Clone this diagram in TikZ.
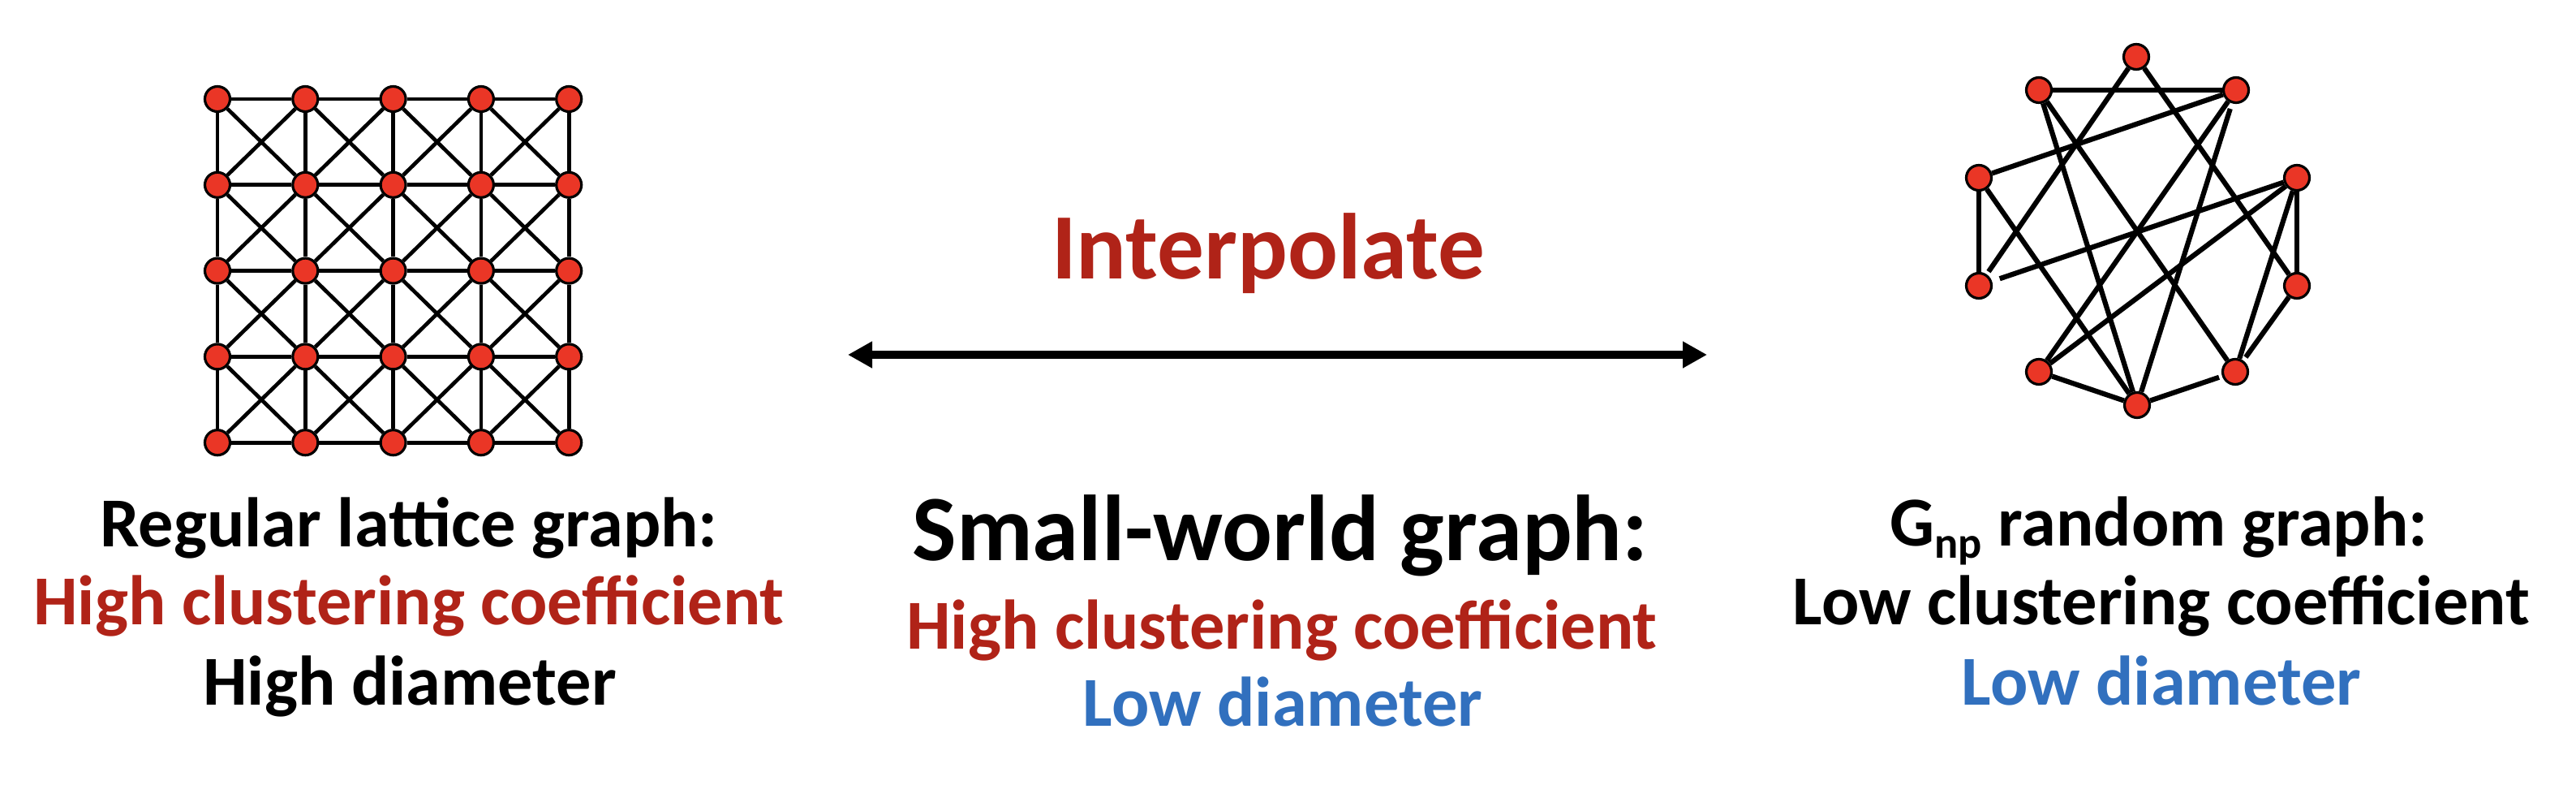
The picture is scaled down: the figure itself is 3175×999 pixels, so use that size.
\documentclass[tikz,border=0pt]{standalone}
\usepackage{fontspec}
\setmainfont{Carlito}
\usepackage{tikz}
\usetikzlibrary{arrows.meta}
\definecolor{redtxt}{RGB}{176,35,24}
\definecolor{bluetxt}{RGB}{49,112,190}
\definecolor{vtxfill}{RGB}{234,54,38}
\tikzset{
  vtx/.style={circle,draw=black,fill=vtxfill,line width=0.32mm,minimum size=3.1mm,inner sep=0pt},
  lat/.style={line width=0.47mm},
  rnd/.style={line width=0.62mm},
  bigtxt/.style={anchor=base,font=\bfseries\fontsize{32.8}{38}\selectfont},
  smalltxt/.style={anchor=base,font=\bfseries\fontsize{24.6}{29}\selectfont}
}

\begin{document}
\begin{tikzpicture}[line cap=butt,line join=round,x=0.1mm,y=-0.1mm]
\useasboundingbox (0,0) rectangle (3175,999);
% regular lattice
\foreach \i in {0,...,4}
  \foreach \j in {0,...,4}
    \node [vtx] (l\i\j) at ({268+108.3*\i},{122+105.8*\j}) {};
\foreach \i/\n in {0/1,1/2,2/3,3/4} {
  \foreach \j in {0,...,4} {
    \draw [lat] (l\i\j)--(l\n\j);
    \draw [lat] (l\j\i)--(l\j\n);
  }
  \foreach \j/\m in {0/1,1/2,2/3,3/4} {
    \draw [lat] (l\i\j)--(l\n\m);
    \draw [lat] (l\n\j)--(l\i\m);
  }
}
% random graph
\node [vtx] (gA) at (2633,70) {};
\node [vtx] (gB) at (2513,111) {};
\node [vtx] (gC) at (2756,111) {};
\node [vtx] (gD) at (2439,219) {};
\node [vtx] (gE) at (2831,219) {};
\node [vtx] (gF) at (2439,352) {};
\node [vtx] (gG) at (2831,352) {};
\node [vtx] (gH) at (2513,458) {};
\node [vtx] (gI) at (2755,458) {};
\node [vtx] (gJ) at (2634,499) {};
\foreach \a/\b in {gB/gC,gA/gG,gB/gJ,gB/gI,gC/gD,gC/gH,gD/gF,gD/gJ,gE/gH,gE/gI,gE/gG,gH/gJ}
  \draw [rnd] (\a)--(\b);
\draw [rnd,shorten >=0.4mm] (gA)--(gF);
\draw [rnd,shorten >=1mm] (gE)--(gF);
\draw [rnd,shorten <=0.7mm] (gC)--(gJ);
\draw [rnd,shorten >=0.4mm] (gJ)--(gI);
\draw [rnd,shorten >=0.5mm] (gG)--(gI);
% arrow and labels
\coordinate (arrL) at (1045,437);
\coordinate (arrR) at (2104,437);
\draw [line width=1mm,{Triangle[length=3mm,width=3.1mm]}-{Triangle[length=3mm,width=3.1mm]}] (arrL)--(arrR);
\node [bigtxt,text=redtxt] (interp) at (1563,344) {Interpolate};
\node [smalltxt] (latA) at (504,674) {Regular lattice graph:};
\node [smalltxt,text=redtxt] (latB) at (504,770) {High clustering coefficient};
\node [smalltxt] (latC) at (505,869) {High diameter};
\node [bigtxt] (swA) at (1578,691) {Small-world graph:};
\node [smalltxt,text=redtxt] (swB) at (1580,800) {High clustering coefficient};
\node [smalltxt,text=bluetxt] (swC) at (1581,895) {Low diameter};
\node [smalltxt] (gnpA) at (2661,673) {G\raisebox{-4.2pt}{\fontsize{15.5}{15.5}\selectfont np} random graph:};
\node [smalltxt] (gnpB) at (2664,770) {Low clustering coefficient};
\node [smalltxt,text=bluetxt] (gnpC) at (2664,869) {Low diameter};
\end{tikzpicture}
\end{document}
